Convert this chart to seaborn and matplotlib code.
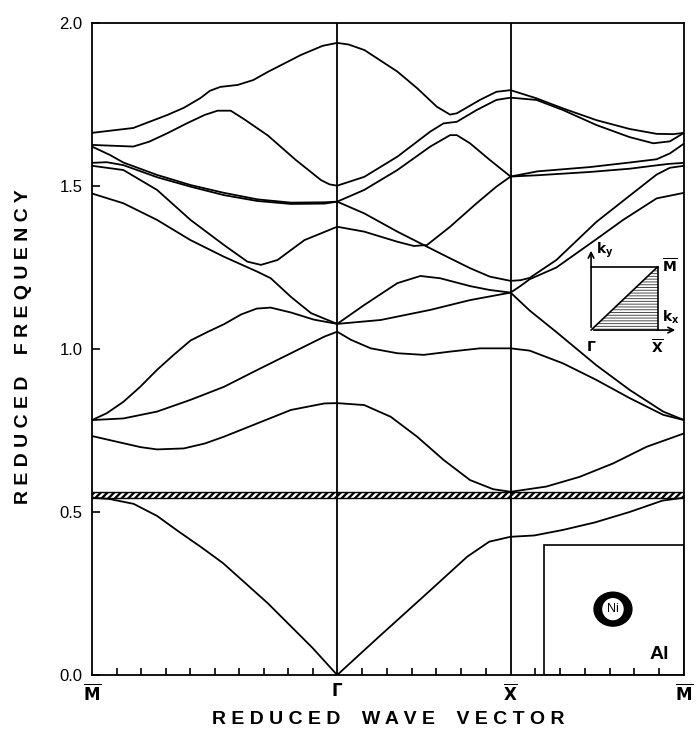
import numpy as np
import pandas as pd
import seaborn as sns
import matplotlib.pyplot as plt
from matplotlib.patches import Rectangle, Ellipse, Polygon

# symmetry points along the path  M - Gamma - X - M
sym_k = [0.0, 1.414, 2.414, 3.414]
sym_labels = [r'$\overline{\mathbf{M}}$', r'$\mathbf{\Gamma}$',
              r'$\overline{\mathbf{X}}$', r'$\overline{\mathbf{M}}$']
y_ticks = [0.0, 0.5, 1.0, 1.5, 2.0]
y_tick_labels = ['0.0', '0.5', '1.0', '1.5', '2.0']

# hatched gap band
gap_low, gap_high = 0.544, 0.560

# dispersion branches (k along path, reduced frequency)
band_a_k = [0, 0.10, 0.24, 0.375, 0.50, 0.63, 0.756, 1.014, 1.272, 1.414,
            1.656, 1.910, 2.164, 2.291, 2.414, 2.55, 2.716, 2.90, 3.10, 3.29, 3.414]
band_a_f = [0.544, 0.540, 0.525, 0.488, 0.440, 0.392, 0.343, 0.220, 0.083, 0.0,
            0.118, 0.240, 0.363, 0.409, 0.424, 0.428, 0.445, 0.468, 0.500, 0.535, 0.544]

band_b_k = [0, 0.09, 0.181, 0.28, 0.375, 0.529, 0.65, 0.761, 0.954, 1.147, 1.34, 1.414,
            1.570, 1.723, 1.875, 2.027, 2.18, 2.313, 2.414,
            2.620, 2.813, 3.005, 3.198, 3.414]
band_b_f = [0.733, 0.722, 0.711, 0.699, 0.692, 0.695, 0.710, 0.731, 0.772, 0.813, 0.833, 0.834,
            0.828, 0.792, 0.731, 0.660, 0.598, 0.570, 0.562,
            0.578, 0.608, 0.649, 0.700, 0.741]

band_c_k = [0, 0.181, 0.375, 0.568, 0.761, 0.954, 1.147, 1.34, 1.414,
            1.494, 1.608, 1.761, 1.913, 2.065, 2.237, 2.414,
            2.524, 2.716, 2.909, 3.102, 3.294, 3.414]
band_c_f = [0.782, 0.787, 0.808, 0.844, 0.884, 0.936, 0.987, 1.038, 1.053,
            1.028, 1.002, 0.987, 0.982, 0.992, 1.002, 1.002,
            0.995, 0.956, 0.905, 0.849, 0.798, 0.782]

band_d_k = [0, 0.085, 0.181, 0.278, 0.375, 0.471, 0.568, 0.665, 0.761, 0.86, 0.95, 1.03,
            1.147, 1.28, 1.414,
            1.665, 1.951, 2.18, 2.414,
            2.524, 2.678, 2.909, 3.102, 3.294, 3.414]
band_d_f = [0.782, 0.803, 0.838, 0.884, 0.936, 0.982, 1.026, 1.052, 1.076, 1.106, 1.124, 1.127,
            1.112, 1.090, 1.077,
            1.089, 1.120, 1.150, 1.173,
            1.118, 1.052, 0.950, 0.874, 0.808, 0.782]

band_e_k = [0, 0.181, 0.375, 0.568, 0.761, 0.954, 1.031, 1.147, 1.263, 1.414,
            1.570, 1.761, 1.894, 2.008, 2.18, 2.294, 2.414,
            2.47, 2.524, 2.678, 2.909, 3.063, 3.256, 3.414]
band_e_f = [1.477, 1.447, 1.396, 1.334, 1.283, 1.237, 1.217, 1.160, 1.110, 1.077,
            1.135, 1.202, 1.224, 1.217, 1.193, 1.181, 1.173,
            1.193, 1.214, 1.250, 1.337, 1.396, 1.462, 1.479]

band_f_k = [0, 0.181, 0.375, 0.568, 0.761, 0.896, 0.974, 1.070, 1.225, 1.414,
            1.570, 1.761, 1.856, 1.932, 2.065, 2.218, 2.332, 2.414,
            2.57, 2.87, 3.10, 3.25, 3.33, 3.414]
band_f_f = [1.562, 1.549, 1.488, 1.396, 1.319, 1.268, 1.258, 1.273, 1.334, 1.375,
            1.360, 1.329, 1.316, 1.319, 1.375, 1.447, 1.498, 1.529,
            1.533, 1.543, 1.553, 1.563, 1.568, 1.571]

band_g_k = [0, 0.085, 0.181, 0.375, 0.568, 0.761, 0.954, 1.147, 1.34, 1.414,
            1.570, 1.761, 1.913, 2.047, 2.18, 2.294, 2.414,
            2.47, 2.524, 2.678, 2.909, 3.10, 3.256, 3.333, 3.414]
band_g_f = [1.571, 1.573, 1.564, 1.527, 1.498, 1.472, 1.454, 1.445, 1.446, 1.452,
            1.416, 1.360, 1.319, 1.283, 1.248, 1.222, 1.209,
            1.211, 1.218, 1.273, 1.390, 1.470, 1.535, 1.556, 1.562]

band_h_k = [0, 0.104, 0.181, 0.375, 0.568, 0.761, 0.954, 1.147, 1.34, 1.414,
            1.570, 1.761, 1.951, 2.065, 2.104, 2.18, 2.294, 2.414,
            2.57, 2.87, 3.10, 3.256, 3.333, 3.414]
band_h_f = [1.621, 1.595, 1.572, 1.534, 1.503, 1.479, 1.459, 1.449, 1.450, 1.452,
            1.488, 1.549, 1.621, 1.656, 1.656, 1.631, 1.580, 1.529,
            1.545, 1.558, 1.572, 1.582, 1.600, 1.630]

band_i_k = [0, 0.238, 0.33, 0.435, 0.55, 0.65, 0.724, 0.80, 0.877, 1.014, 1.175, 1.321, 1.37, 1.414,
            1.570, 1.761, 1.951, 2.027, 2.104, 2.218, 2.332, 2.414,
            2.563, 2.716, 2.909, 3.10, 3.237, 3.333, 3.414]
band_i_f = [1.626, 1.621, 1.636, 1.662, 1.693, 1.718, 1.731, 1.731, 1.705, 1.655, 1.580, 1.518, 1.505, 1.501,
            1.528, 1.590, 1.667, 1.692, 1.697, 1.733, 1.764, 1.771,
            1.764, 1.733, 1.687, 1.650, 1.631, 1.637, 1.663]

band_j_k = [0, 0.238, 0.435, 0.53, 0.626, 0.68, 0.74, 0.84, 0.93, 1.014, 1.205, 1.33, 1.414,
            1.48, 1.571, 1.761, 1.875, 1.989, 2.065, 2.104, 2.237, 2.332, 2.414,
            2.563, 2.716, 2.909, 3.10, 3.256, 3.352, 3.414]
band_j_f = [1.663, 1.678, 1.718, 1.740, 1.770, 1.792, 1.804, 1.810, 1.825, 1.850, 1.902, 1.930, 1.939,
            1.934, 1.917, 1.851, 1.800, 1.743, 1.719, 1.723, 1.764, 1.789, 1.794,
            1.769, 1.738, 1.702, 1.675, 1.660, 1.659, 1.663]

bands = {
    'a': (band_a_k, band_a_f), 'b': (band_b_k, band_b_f),
    'c': (band_c_k, band_c_f), 'd': (band_d_k, band_d_f),
    'e': (band_e_k, band_e_f), 'f': (band_f_k, band_f_f),
    'g': (band_g_k, band_g_f), 'h': (band_h_k, band_h_f),
    'i': (band_i_k, band_i_f), 'j': (band_j_k, band_j_f),
}
df = pd.concat([pd.DataFrame({'k': k, 'freq': f, 'band': name})
                for name, (k, f) in bands.items()], ignore_index=True)


def spaced(text, gap='    '):
    return gap.join(' '.join(word) for word in text.split())


sns.set_style('ticks', {'axes.edgecolor': 'black', 'text.color': 'black',
                        'xtick.color': 'black', 'ytick.color': 'black',
                        'axes.labelcolor': 'black'})
plt.rcParams['font.family'] = ['Liberation Sans', 'DejaVu Sans']

fig = plt.figure(figsize=(6.97, 7.42), dpi=100)
ax = fig.add_axes([92 / 697, 67 / 742, 592 / 697, 652 / 742])

# gap band (heavier hatch)
with plt.rc_context({'hatch.linewidth': 1.7}):
    ax.axhspan(gap_low, gap_high, facecolor='white', edgecolor='black',
               hatch='/////', linewidth=1.0, zorder=1)

# symmetry lines
for k in sym_k[1:3]:
    ax.axvline(k, color='black', lw=1.3, zorder=2)

sns.lineplot(data=df, x='k', y='freq', units='band', estimator=None, sort=False,
             color='black', linewidth=1.3, legend=False, ax=ax, zorder=3,
             solid_joinstyle='round')

ax.set_xlim(sym_k[0], sym_k[-1])
ax.set_ylim(0, 2)
ax.set_xlabel('')
ax.set_ylabel('')

# ticks
minor = np.concatenate([np.linspace(sym_k[0], sym_k[1], 11)[1:-1],
                        np.linspace(sym_k[1], sym_k[2], 8)[1:-1],
                        np.linspace(sym_k[2], sym_k[3], 8)[1:-1]])
ax.set_xticks(sym_k, sym_labels)
ax.set_xticks(minor, minor=True)
ax.tick_params(axis='x', which='major', length=0, pad=5, labelsize=12)
ax.tick_params(axis='x', which='minor', direction='in', length=5, width=1.2)
ax.set_yticks(y_ticks, y_tick_labels)
ax.tick_params(axis='y', direction='in', length=6, width=1.2, labelsize=12, pad=7)
for s in ax.spines.values():
    s.set_linewidth(1.3)

fig.text(388 / 697, 1 - 720 / 742, spaced('REDUCED WAVE VECTOR'),
         ha='center', va='center', fontsize=14, fontweight='bold')
fig.text(24 / 697, 1 - 347 / 742, spaced('REDUCED FREQUENCY'),
         ha='center', va='center', rotation=90, fontsize=14, fontweight='bold')

# Brillouin zone sketch
tr = ax.transAxes
gx, gy = 0.843, 0.529
mx, my = 0.9556, 0.6262
with plt.rc_context({'hatch.linewidth': 0.7}):
    ax.add_patch(Polygon([(gx, gy), (mx, gy), (mx, my)], closed=True, fill=False,
                         hatch='------', edgecolor='0.3', lw=0, transform=tr))
ax.plot([gx, mx], [my, my], color='black', lw=1.2, transform=tr)
ax.plot([mx, mx], [gy, my], color='black', lw=1.2, transform=tr)
ax.plot([gx, mx], [gy, my], color='black', lw=1.2, transform=tr)
ax.annotate('', xy=(gx, 0.655), xytext=(gx, gy), xycoords='axes fraction',
            arrowprops=dict(arrowstyle='->', lw=1.2, color='black'))
ax.annotate('', xy=(0.99, gy), xytext=(gx, gy), xycoords='axes fraction',
            arrowprops=dict(arrowstyle='->', lw=1.2, color='black'))
ax.text(gx, 0.503, r'$\mathbf{\Gamma}$', transform=tr, ha='center', va='center', fontsize=10)
ax.text(mx, 0.503, r'$\overline{\mathbf{X}}$', transform=tr, ha='center', va='center', fontsize=10)
ax.text(mx + 0.007, my, r'$\overline{\mathbf{M}}$', transform=tr, ha='left', va='center', fontsize=10)
ax.text(gx + 0.008, 0.652, r'$\mathbf{k_y}$', transform=tr, ha='left', va='center', fontsize=10)
ax.text(0.963, 0.549, r'$\mathbf{k_x}$', transform=tr, ha='left', va='center', fontsize=10)

# Ni on Al sketch
ax.add_patch(Rectangle((0.764, 0), 0.236, 0.199, fill=False, lw=1.2,
                       edgecolor='black', transform=tr, zorder=4))
ax.add_patch(Ellipse((0.880, 0.101), 0.064, 0.052, color='black', transform=tr, zorder=4))
ax.add_patch(Ellipse((0.880, 0.101), 0.034, 0.032, color='white', transform=tr, zorder=5))
ax.text(0.880, 0.101, 'Ni', transform=tr, ha='center', va='center',
        fontsize=9, zorder=6)
ax.text(0.959, 0.031, 'Al', transform=tr, ha='center', va='center',
        fontsize=14, fontweight='bold')

fig.savefig('out.png', dpi=100)
